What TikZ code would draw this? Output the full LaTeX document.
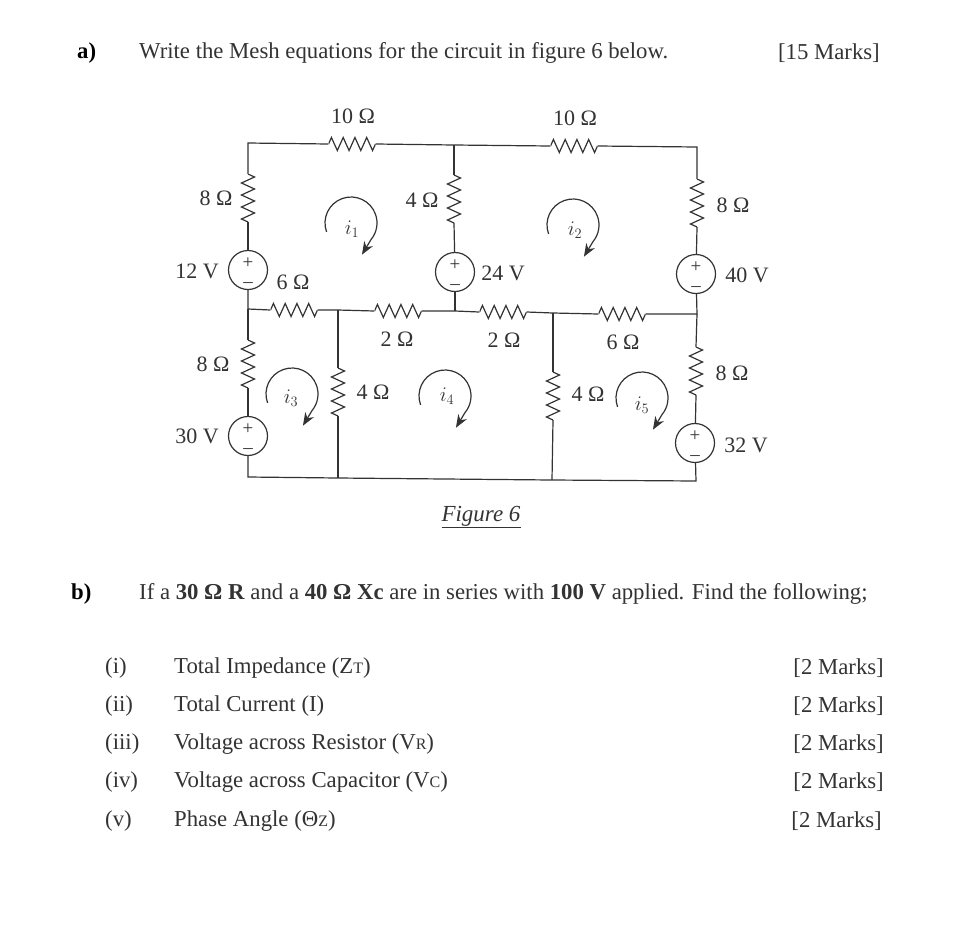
\documentclass[tikz,border=0pt]{standalone}
\usepackage{fontspec}
\setmainfont{Liberation Serif}
\usetikzlibrary{arrows.meta,decorations.pathmorphing}
\definecolor{ink}{gray}{0.2}
\newcommand{\lowcap}[1]{{\fontsize{16}{16}\selectfont #1}}
\newcommand{\polarity}{\rule{0pt}{16pt}+\\–}
\tikzset{
	wire/.style={draw=ink, line width=1.2pt},
	resh/.style={minimum width=47pt, minimum height=16pt, inner sep=0pt, path picture={\draw [ink, line width=1.2pt, decorate, decoration={zigzag,segment length=11.75pt,amplitude=6.5pt}] (path picture bounding box.west) -- (path picture bounding box.east);}},
	resv/.style={minimum width=16pt, minimum height=48pt, inner sep=0pt, path picture={\draw [ink, line width=1.2pt, decorate, decoration={zigzag,segment length=12pt,amplitude=6.5pt}] (path picture bounding box.north) -- (path picture bounding box.south);}},
	src/.style={circle, draw=ink, line width=1.2pt, minimum size=39pt, inner sep=0pt, align=center, font=\fontsize{19}{19}\selectfont, text=ink},
	val/.style={text=ink, font=\fontsize{22}{24}\selectfont, inner sep=0pt},
	curr/.style={text=ink, font=\fontsize{21}{24}\selectfont, inner sep=0pt},
	mesh/.style={ink, line width=1.2pt, -{Stealth[length=13pt,width=10pt]}},
	line/.style={text=ink, font=\fontsize{22.75}{26}\selectfont, inner sep=0pt},
	bold/.style={line, text=black, font=\fontsize{22.75}{26}\selectfont\bfseries}
}
\begin{document}
\begin{tikzpicture}[x=1pt,y=-1pt]
	\path [use as bounding box, fill=white] (0,0) rectangle (980,940);

	\node [bold, anchor=west] (parta) at (77,53) {a)};
	\node [line, anchor=west] (question) at (139,53) {Write the Mesh equations for the circuit in figure 6 below.};
	\node [line, anchor=east] (marks) at (880,53) {[15 Marks]};

	\coordinate (tl) at (248,143);
	\coordinate (tm) at (454,145);
	\coordinate (tr) at (697,147);
	\coordinate (ml) at (248,309);
	\coordinate (ja) at (338,310);
	\coordinate (jb) at (455,311);
	\coordinate (jc) at (553,313);
	\coordinate (mr) at (697,314);
	\coordinate (bl) at (248,477);
	\coordinate (bja) at (338,478);
	\coordinate (bjc) at (552,480);
	\coordinate (br) at (696,481);

	\node [resh] (rtopa) at (352,144) {};
	\node [resh] (rtopb) at (574,146) {};
	\node [resv] (rlefta) at (248,198) {};
	\node [resv] (rmida) at (454,199) {};
	\node [resv] (rrighta) at (697,203) {};
	\node [resh] (rmidsix) at (294,310) {};
	\node [resh] (rmidtwo) at (398,311) {};
	\node [resh] (rmidthree) at (503,312) {};
	\node [resh] (rmidfour) at (622,314) {};
	\node [resv] (rleftb) at (248,364) {};
	\node [resv] (rlow) at (338,392) {};
	\node [resv] (rlowb) at (553,396) {};
	\node [resv] (rrightb) at (696,371) {};

	\node [src] (stwelve) at (248,270) {\polarity};
	\node [src] (stf) at (455,272) {\polarity};
	\node [src] (sforty) at (696,274) {\polarity};
	\node [src] (sthirty) at (248,436) {\polarity};
	\node [src] (sttwo) at (695,443) {\polarity};

	\draw [wire] (stwelve) -- (rlefta.south);
	\draw [wire] (rlefta.north) -- (tl) -- (rtopa.west);
	\draw [wire] (rtopa.east) -- (tm) -- (rtopb.west);
	\draw [wire] (rtopb.east) -- (tr) -- (rrighta.north);
	\draw [wire] (rrighta.south) -- (sforty);
	\draw [wire] (tm) -- (rmida.north);
	\draw [wire] (rmida.south) -- (stf);
	\draw [wire] (stf) -- (jb);
	\draw [wire] (stwelve) -- (ml) -- (rmidsix.west);
	\draw [wire] (rmidsix.east) -- (ja) -- (rmidtwo.west);
	\draw [wire] (rmidtwo.east) -- (jb) -- (rmidthree.west);
	\draw [wire] (rmidthree.east) -- (jc) -- (rmidfour.west);
	\draw [wire] (rmidfour.east) -- (mr) -- (sforty);
	\draw [wire] (ml) -- (rleftb.north);
	\draw [wire] (rleftb.south) -- (sthirty);
	\draw [wire] (sthirty) -- (bl) -- (bja) -- (bjc) -- (br) -- (sttwo);
	\draw [wire] (ja) -- (rlow.north);
	\draw [wire] (rlow.south) -- (bja);
	\draw [wire] (jc) -- (rlowb.north);
	\draw [wire] (rlowb.south) -- (bjc);
	\draw [wire] (mr) -- (rrightb.north);
	\draw [wire] (rrightb.south) -- (sttwo);

	\node [val] (ltopa) at (353,116) {10 Ω};
	\node [val] (ltopb) at (575,118) {10 Ω};
	\node [val] (llefta) at (216,198) {8 Ω};
	\node [val] (lmida) at (422,200) {4 Ω};
	\node [val] (lrighta) at (733,205) {8 Ω};
	\node [val] (vtwelve) at (197,271) {12 V};
	\node [val] (lsix) at (293,282) {6 Ω};
	\node [val] (vtf) at (503,273) {24 V};
	\node [val] (vforty) at (747,275) {40 V};
	\node [val] (ltwoa) at (397,339) {2 Ω};
	\node [val] (ltwob) at (504,340) {2 Ω};
	\node [val] (lsixb) at (623,342) {6 Ω};
	\node [val] (lleftb) at (213,364) {8 Ω};
	\node [val] (llowa) at (373,392) {4 Ω};
	\node [val] (llowb) at (588,394) {4 Ω};
	\node [val] (lrightb) at (732,373) {8 Ω};
	\node [val] (vthirty) at (197,436) {30 V};
	\node [val] (vttwo) at (746,445) {32 V};

	\coordinate (mone) at (351,223);
	\coordinate (mtwo) at (573,225);
	\coordinate (mthree) at (292,394);
	\coordinate (mfour) at (445,396);
	\coordinate (mfive) at (642,398);
	\foreach \c in {mone,mtwo,mthree,mfour,mfive}
		\draw [mesh] (\c) ++(160:26) arc [start angle=160, end angle=400, radius=26] -- ++(-9,15);
	\node [curr] (ione) at (352,229) {$i_1$};
	\node [curr] (itwo) at (575,230) {$i_2$};
	\node [curr] (ithree) at (291,398) {$i_3$};
	\node [curr] (ifour) at (447,396) {$i_4$};
	\node [curr] (ifive) at (642,405) {$i_5$};

	\node [line, font=\fontsize{23}{26}\selectfont\itshape] (figlabel) at (481,517) {\underline{Figure 6}};

	\node [bold, anchor=west] (partb) at (71,594) {b)};
	\node [line, anchor=west] (given) at (139,594) {If a \textbf{30 Ω R} and a \textbf{40 Ω Xc} are in series with \textbf{100 V} applied. Find the following;};

	\node [line, anchor=west] (ni) at (105,668) {(i)};
	\node [line, anchor=west] (nii) at (105,706) {(ii)};
	\node [line, anchor=west] (niii) at (105,744) {(iii)};
	\node [line, anchor=west] (niv) at (105,782) {(iv)};
	\node [line, anchor=west] (nv) at (105,821) {(v)};

	\node [line, anchor=west] (ti) at (174,668) {Total Impedance (Z\lowcap{T})};
	\node [line, anchor=west] (tii) at (174,706) {Total Current (I)};
	\node [line, anchor=west] (tiii) at (174,744) {Voltage across Resistor (V\lowcap{R})};
	\node [line, anchor=west] (tiv) at (174,782) {Voltage across Capacitor (V\lowcap{C})};
	\node [line, anchor=west] (tv) at (174,821) {Phase Angle (Θ\lowcap{Z})};

	\node [line, anchor=east] (mi) at (884,668) {[2 Marks]};
	\node [line, anchor=east] (mii) at (884,706) {[2 Marks]};
	\node [line, anchor=east] (miii) at (884,744) {[2 Marks]};
	\node [line, anchor=east] (miv) at (884,782) {[2 Marks]};
	\node [line, anchor=east] (mv) at (882,821) {[2 Marks]};
\end{tikzpicture}
\end{document}
